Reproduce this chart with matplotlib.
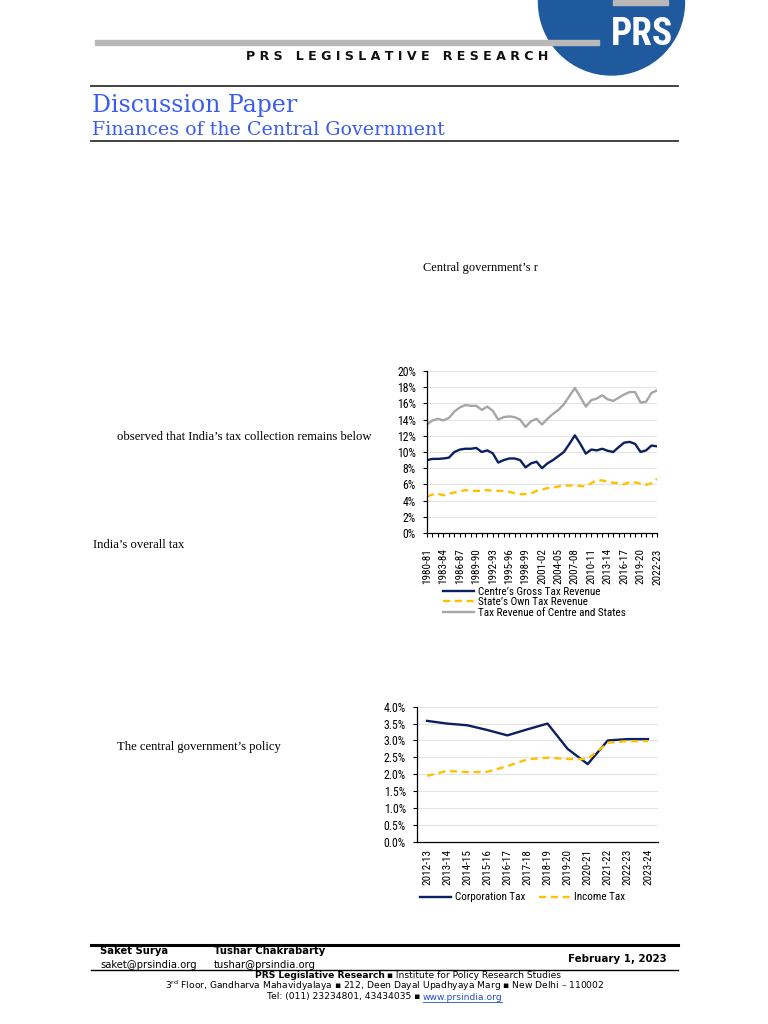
import matplotlib
matplotlib.use('Agg')
import matplotlib.pyplot as plt
from matplotlib import font_manager
from matplotlib.patches import Circle, Rectangle
from matplotlib.ticker import FixedLocator, FuncFormatter

# chart 1: tax revenue as % of GDP
years = ['1980-81', '1981-82', '1982-83', '1983-84', '1984-85', '1985-86', '1986-87',
         '1987-88', '1988-89', '1989-90', '1990-91', '1991-92', '1992-93', '1993-94',
         '1994-95', '1995-96', '1996-97', '1997-98', '1998-99', '1999-00', '2000-01',
         '2001-02', '2002-03', '2003-04', '2004-05', '2005-06', '2006-07', '2007-08',
         '2008-09', '2009-10', '2010-11', '2011-12', '2012-13', '2013-14', '2014-15',
         '2015-16', '2016-17', '2017-18', '2018-19', '2019-20', '2020-21', '2021-22',
         '2022-23']
centre = [9.0, 9.15, 9.15, 9.2, 9.3, 10.0, 10.3, 10.4, 10.4, 10.5, 10.0, 10.2, 9.85,
          8.7, 9.0, 9.2, 9.2, 9.0, 8.1, 8.6, 8.8, 8.0, 8.6, 9.0, 9.5, 10.0, 11.0, 12.05,
          11.0, 9.8, 10.3, 10.2, 10.4, 10.15, 10.0, 10.6, 11.15, 11.25, 11.0, 10.0, 10.2,
          10.8, 10.7]
states = [4.5, 4.75, 4.85, 4.65, 4.85, 5.0, 5.15, 5.3, 5.2, 5.2, 5.2, 5.3, 5.2, 5.2,
          5.2, 5.1, 4.9, 4.8, 4.8, 4.9, 5.2, 5.35, 5.55, 5.6, 5.75, 5.9, 5.85, 5.9, 5.8,
          5.75, 6.15, 6.5, 6.5, 6.3, 6.2, 6.15, 6.0, 6.3, 6.25, 6.1, 5.95, 6.15, 6.7]
combined = [13.4, 13.9, 14.1, 13.9, 14.2, 15.0, 15.5, 15.8, 15.7, 15.7, 15.2, 15.6, 15.1,
            14.0, 14.3, 14.4, 14.3, 14.0, 13.1, 13.8, 14.1, 13.4, 14.1, 14.7, 15.2, 15.9,
            16.9, 17.9, 16.8, 15.6, 16.4, 16.6, 17.0, 16.5, 16.3, 16.7, 17.1, 17.4, 17.4,
            16.1, 16.2, 17.3, 17.6]

# chart 2: corporation and income tax as % of GDP
fyears = ['2012-13', '2013-14', '2014-15', '2015-16', '2016-17', '2017-18', '2018-19',
          '2019-20', '2020-21', '2021-22', '2022-23', '2023-24']
corp_tax = [3.58, 3.5, 3.45, 3.31, 3.15, 3.33, 3.5, 2.75, 2.3, 3.0, 3.04, 3.04]
income_tax = [1.95, 2.1, 2.06, 2.07, 2.24, 2.44, 2.49, 2.45, 2.45, 2.93, 2.98, 2.98]

NAVY = '#0b2060'
GOLD = '#ffc000'
GREY = '#a6a6a6'
BLUE_T = '#3a5cf0'
SERIF = ['Liberation Serif', 'DejaVu Serif']
FOOT = ['DejaVu Sans']

# chart fonts: Arial Narrow look-alike if there is one, else a smaller Arial
have = {f.name for f in font_manager.fontManager.ttflist}
NARROW = None
for cand in ['Liberation Sans Narrow', 'Roboto Condensed', 'Open Sans Condensed',
             'DejaVu Sans Condensed']:
    if cand in have:
        NARROW = [cand, 'DejaVu Sans']
        break
if NARROW is None:
    NARROW = ['Liberation Sans', 'DejaVu Sans']
    FS_TICK, FS_Y, FS_LEG = 6.6, 7.2, 6.8
else:
    FS_TICK, FS_Y, FS_LEG = 8, 8.5, 8

W, H = 768, 1024
fig = plt.figure(figsize=(W / 100, H / 100), dpi=100)

def fx(x):
    return x / W

def fy(y):
    return 1 - y / H

# page layer in pixel coords
bg = fig.add_axes([0, 0, 1, 1])
bg.set_xlim(0, W)
bg.set_ylim(H, 0)
bg.axis('off')

# header logo
bg.add_patch(Circle((611.5, 2), 73, color='#1f5a9e', zorder=1))
bg.add_patch(Rectangle((95, 40), 504, 4.5, color='#b8b8b8', zorder=2))
bg.add_patch(Rectangle((613, 0), 55, 5, color='#b8b8b8', zorder=2))
bg.text(642, 45, 'PRS', color='white', fontsize=27, fontweight='bold',
        family=NARROW, ha='center', va='baseline', zorder=3)
bg.text(548, 57, 'P R S   L E G I S L A T I V E   R E S E A R C H', fontsize=9.1,
        fontweight='bold', ha='right', va='center', color='#111111')

bg.plot([91, 678], [86, 86], color='#333333', lw=1.3)
bg.plot([91, 678], [141, 141], color='#333333', lw=1.3)
bg.text(92, 112, 'Discussion Paper', color=BLUE_T, fontsize=17, family=['DejaVu Serif'],
        va='baseline')
bg.text(92, 135, 'Finances of the Central Government', color=BLUE_T, fontsize=13.7,
        family=['DejaVu Serif'], va='baseline')

# body text fragments
bg.text(423, 271, 'Central government\u2019s r', fontsize=8.9, family=SERIF, va='baseline')
bg.text(117, 440, 'observed that India\u2019s tax collection remains below', fontsize=9.1,
        family=SERIF, va='baseline')
bg.text(93, 548, 'India\u2019s overall tax', fontsize=9.1, family=SERIF, va='baseline')
bg.text(117, 750, 'The central government\u2019s policy', fontsize=9.1, family=SERIF,
        va='baseline')

# footer
bg.plot([91, 678], [944.5, 944.5], color='black', lw=2.2)
bg.plot([91, 678], [969.5, 969.5], color='black', lw=1.0)
bg.text(100, 951, 'Saket Surya', fontsize=7.2, fontweight='bold', family=FOOT, va='center')
bg.text(100, 965, 'saket@prsindia.org', fontsize=7.2, family=FOOT, va='center')
bg.text(214, 951, 'Tushar Chakrabarty', fontsize=7.2, fontweight='bold', family=FOOT,
        va='center')
bg.text(214, 965, 'tushar@prsindia.org', fontsize=7.2, family=FOOT, va='center')
bg.text(667, 959, 'February 1, 2023', fontsize=7.4, fontweight='bold', family=FOOT,
        ha='right', va='center')
bg.text(384.5, 975, 'PRS Legislative Research', fontsize=6.6, fontweight='bold',
        family=FOOT, ha='right', va='center')
bg.text(384.5, 975, ' \u25aa Institute for Policy Research Studies', fontsize=6.6,
        family=FOOT, ha='left', va='center')
bg.text(384.5, 986, '3$^{\\mathrm{rd}}$ Floor, Gandharva Mahavidyalaya \u25aa 212, Deen Dayal '
        'Upadhyaya Marg \u25aa New Delhi \u2013 110002', fontsize=6.6, family=FOOT,
        ha='center', va='center')
tel = bg.text(384.5, 997, 'Tel: (011) 23234801, 43434035 \u25aa ', fontsize=6.6,
              family=FOOT, ha='right', va='center')
url = bg.text(384.5, 997, 'www.prsindia.org', fontsize=6.6, family=FOOT, color='#1f4fd0',
              ha='left', va='center')
# centre the telephone line as one piece and underline the link
r = fig.canvas.get_renderer()
w1 = tel.get_window_extent(r).width
w2 = url.get_window_extent(r).width
mid = 384.5 - (w2 - w1) / 2
tel.set_x(mid)
url.set_x(mid)
bg.plot([mid, mid + w2], [1002, 1002], color='#1f4fd0', lw=0.6)


def style_axes(ax):
    for s in ['top', 'right']:
        ax.spines[s].set_visible(False)
    for s in ['left', 'bottom']:
        ax.spines[s].set_color('black')
        ax.spines[s].set_linewidth(0.9)
    ax.grid(axis='y', color='#e3e3e3', lw=0.7)
    ax.set_axisbelow(True)
    ax.patch.set_alpha(0)


# chart 1
ax1 = fig.add_axes([fx(427), fy(533), fx(657 - 427), (533 - 371) / H])
x = list(range(len(years)))
ax1.plot(x, centre, color=NAVY, lw=1.7, label='Centre\u2019s Gross Tax Revenue')
ax1.plot(x, states, color=GOLD, lw=1.7, dashes=(3, 2), label='State\u2019s Own Tax Revenue')
ax1.plot(x, combined, color=GREY, lw=1.7, label='Tax Revenue of Centre and States')
ax1.set_xlim(0, len(years) - 1)
ax1.set_ylim(0, 20)
ax1.set_yticks(range(0, 21, 2))
ax1.yaxis.set_major_formatter(FuncFormatter(lambda v, p: f'{v:.0f}%'))
ax1.xaxis.set_major_locator(FixedLocator(x[::3]))
ax1.set_xticklabels(years[::3], rotation=90)
ax1.xaxis.set_minor_locator(FixedLocator(x))
ax1.tick_params(axis='x', which='both', length=3, width=0.8, pad=8, labelsize=FS_TICK)
ax1.tick_params(axis='y', length=3, width=0.8, pad=5, labelsize=FS_Y)
style_axes(ax1)
for t in ax1.get_xticklabels() + ax1.get_yticklabels():
    t.set_family(NARROW)
ax1.legend(loc='upper left', bbox_to_anchor=(fx(437), fy(581)),
           bbox_transform=fig.transFigure, frameon=False, handlelength=2.8,
           handletextpad=0.35, labelspacing=0.05, borderpad=0,
           prop={'family': NARROW, 'size': FS_LEG})

# chart 2
ax2 = fig.add_axes([fx(417), fy(841.7), fx(658 - 417), (841.7 - 706.7) / H])
x2 = list(range(len(fyears)))
ax2.plot(x2, corp_tax, color=NAVY, lw=1.7, label='Corporation Tax')
ax2.plot(x2, income_tax, color=GOLD, lw=1.7, dashes=(3, 2), label='Income Tax')
ax2.set_xlim(-0.5, len(fyears) - 0.5)
ax2.set_ylim(0, 4)
ax2.set_yticks([i * 0.5 for i in range(9)])
ax2.yaxis.set_major_formatter(FuncFormatter(lambda v, p: f'{v:.1f}%'))
ax2.set_xticks(x2)
ax2.set_xticklabels(fyears, rotation=90)
ax2.tick_params(axis='x', length=0, pad=5, labelsize=FS_TICK)
ax2.tick_params(axis='y', length=3, width=0.8, pad=5, labelsize=FS_Y)
style_axes(ax2)
for t in ax2.get_xticklabels() + ax2.get_yticklabels():
    t.set_family(NARROW)
ax2.legend(loc='center left', bbox_to_anchor=(fx(414), fy(897.5)),
           bbox_transform=fig.transFigure, frameon=False, ncol=2, handlelength=2.8,
           handletextpad=0.35, columnspacing=1.3, borderpad=0,
           prop={'family': NARROW, 'size': FS_LEG})

fig.savefig('out.png', dpi=100)
